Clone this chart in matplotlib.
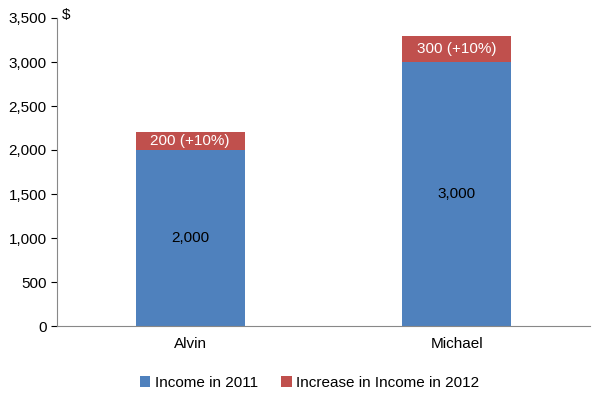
import matplotlib
matplotlib.use("Agg")
import matplotlib.pyplot as plt
from matplotlib.ticker import FuncFormatter

plt.rcParams['font.family'] = ['Liberation Sans', 'DejaVu Sans']

categories = ["Alvin", "Michael"]
income_2011 = [2000, 3000]
increase_2012 = [200, 300]
increase_labels = ["200 (+10%)", "300 (+10%)"]

fig = plt.figure(figsize=(5.95, 4.01), dpi=100)
ax = fig.add_axes([57/595, 1-326/401, 533/595, 308/401])
x = range(len(categories))
b1 = ax.bar(x, income_2011, width=0.41, color="#4f81bd", label="Income in 2011")
b2 = ax.bar(x, increase_2012, width=0.41, bottom=income_2011, color="#c0504d", label="Increase in Income in 2012")
for i in x:
    ax.text(i, income_2011[i]/2, f"{income_2011[i]:,}", ha="center", va="center", fontsize=11)
    ax.text(i, income_2011[i]+increase_2012[i]/2, increase_labels[i], ha="center", va="center", fontsize=11, color="white")
ax.set_xlim(-0.5, 1.5)
ax.set_ylim(0, 3500)
ax.set_yticks(range(0, 3501, 500))
ax.yaxis.set_major_formatter(FuncFormatter(lambda v, p: f"{int(v):,}"))
ax.set_xticks(list(x))
ax.set_xticklabels(categories)
ax.tick_params(labelsize=11, colors="black")
ax.tick_params(axis="x", length=0, pad=8)
ax.tick_params(axis="y", direction="out", length=4)
for s in ["top", "right"]:
    ax.spines[s].set_visible(False)
ax.spines["left"].set_color("#888888")
ax.spines["bottom"].set_color("#888888")
fig.text(62/595, 1-15/401, "$", fontsize=11, va="center")
fig.legend(handles=[b1, b2], loc="center", bbox_to_anchor=(0.52, 1-383/401), ncol=2,
           frameon=False, fontsize=11, handlelength=0.7, handleheight=0.7, columnspacing=1.5, handletextpad=0.3)
fig.savefig("out.png", dpi=100)
